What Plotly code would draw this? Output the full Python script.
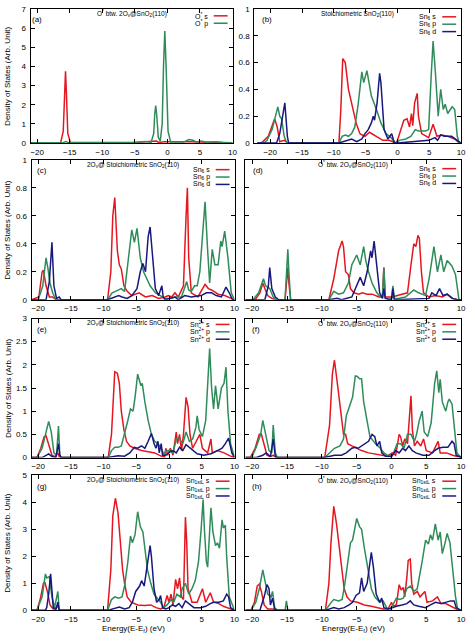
import plotly.graph_objects as go

# ---------------- data (energies in eV, DOS in arb. units) ----------------
# (a) O* btw. 2Ov@SnO2(110)
a_s_x = [-21, -16.4, -16.0, -15.8, -15.65, -15.5, -15.3, -14.9, -5, -1.7, -1.3, -0.4, 3.4, 10]
a_s_y = [0.02, 0.02, 0.6, 2.5, 3.75, 2.5, 0.5, 0.03, 0.03, 0.1, 0.03, 0.06, 0.06, 0.02]
a_p_x = [-21, -16, -15.6, -15.2, -5, -3.5, -2.5, -2.1, -1.95, -1.8, -1.65, -1.4, -1.1, -0.8, -0.6, -0.4,
         -0.2, 0.1, 0.5, 2.5, 3.3, 3.9, 4.5, 5.2, 6, 7.5, 8.5, 10]
a_p_y = [0.02, 0.02, 0.08, 0.02, 0.03, 0.08, 0.04, 0.5, 1.5, 1.95, 1.5, 0.3, 0.1, 1.0, 4.0, 5.85,
         4.0, 0.6, 0.05, 0.05, 0.18, 0.15, 0.05, 0.1, 0.04, 0.06, 0.03, 0.02]

# (b) Stoichiometric SnO2(110)
b_s_x = [-22, -21.4, -20.3, -19.3, -18.9, -18.5, -17.8, -17.2, -9.2, -8.9, -8.6, -8.2, -7.7, -7.2, -6.5,
         -5.9, -5.1, -4.4, -3.3, -2.3, -1.3, -0.3, 0.0, 0.5, 1.0, 1.5, 1.9, 2.2, 2.4, 2.7, 3.1, 3.3, 3.8,
         4.9, 5.6, 6.2, 6.9, 7.9, 9.0, 9.7, 10]
b_s_y = [0, 0, 0.05, 0.18, 0.12, 0.01, 0.02, 0, 0, 0.25, 0.63, 0.6, 0.4, 0.3, 0.15,
         0.07, 0.05, 0.08, 0.05, 0.02, 0.02, 0.0, 0.02, 0.1, 0.17, 0.18, 0.12, 0.22, 0.13, 0.3, 0.37, 0.2, 0.07,
         0.04, 0.14, 0.05, 0.06, 0.05, 0.03, 0.0, 0]
b_p_x = [-22, -21, -20.5, -19.7, -18.8, -18.5, -18.2, -17.8, -17.4, -9.2, -8.7, -8.2, -7.7, -7.2, -6.7,
         -6.2, -5.6, -5.3, -4.8, -4.1, -3.3, -2.6, -1.8, -1.0, -0.3, 0.3, 1.3, 2.1, 2.8, 3.3, 4.4, 4.9,
         5.3, 5.6, 6.0, 6.4, 6.8, 7.2, 7.5, 7.9, 8.6, 9.0, 9.4, 9.7, 10]
b_p_y = [0, 0, 0.02, 0.1, 0.27, 0.2, 0.18, 0.05, 0, 0, 0.05, 0.06, 0.05, 0.07, 0.12,
         0.28, 0.53, 0.45, 0.54, 0.35, 0.25, 0.15, 0.07, 0.04, 0.0, 0.02, 0.03, 0.05, 0.1, 0.09, 0.09, 0.1,
         0.5, 0.76, 0.5, 0.2, 0.4, 0.25, 0.29, 0.22, 0.27, 0.25, 0.05, 0, 0]
b_d_x = [-22, -19, -18.5, -17.9, -17.7, -17.3, -17.1, -9.2, -7.7, -7.2, -6.4, -5.6, -5.1, -4.6, -4.1,
         -3.8, -3.6, -3.2, -2.8, -2.6, -2.1, -1.5, -0.9, -0.5, 0, 4.9, 5.9, 6.3, 6.8, 7.4, 8.5, 9.5, 10]
b_d_y = [0, 0, 0.07, 0.25, 0.3, 0.05, 0, 0, 0.02, 0.03, 0.01, 0.03, 0.07, 0.1, 0.15,
         0.2, 0.17, 0.3, 0.52, 0.45, 0.1, 0.03, 0.07, 0.0, 0, 0.02, 0.04, 0.02, 0.06, 0.05, 0.05, 0.02, 0]

# (c) 2Ov@ Stoichiometric SnO2(110), Sn6
c_s_x = [-21, -19.9, -19.4, -19.2, -18.8, -18.3, -17.8, -17.3, -9.4, -8.9, -8.6, -8.3, -7.9, -7.6, -7.3,
         -6.9, -6.4, -5.7, -4.6, -3.6, -2.6, -1.6, -0.6, -0.1, 0.4, 0.9, 1.4, 2.2, 2.6, 2.8, 3.0, 3.4, 4.4,
         5.5, 6.0, 6.5, 7.5, 8.5, 9.5, 10]
c_s_y = [0, 0.02, 0.2, 0.21, 0.1, 0.02, 0.02, 0, 0, 0.2, 0.6, 0.73, 0.35, 0.25, 0.22,
         0.1, 0.06, 0.03, 0.05, 0.02, 0.03, 0.01, 0.02, 0.03, 0.02, 0.05, 0.02, 0.1, 0.6, 0.8, 0.3, 0.05, 0.02,
         0.11, 0.08, 0.07, 0.04, 0.03, 0.01, 0]
c_p_x = [-21, -20, -19.3, -18.8, -18.5, -18.2, -17.8, -17.3, -9.4, -8.7, -8.2, -7.7, -7.3, -6.8, -6.2,
         -5.7, -5.3, -4.9, -4.4, -3.9, -3.4, -2.9, -2.1, -1.4, -0.6, 0, 1, 1.9, 2.7, 3.0, 3.4, 3.9, 4.3,
         4.7, 5.2, 5.5, 5.9, 6.2, 6.6, 7.0, 7.5, 7.9, 8.1, 8.5, 9.0, 9.5, 10]
c_p_y = [0, 0, 0.1, 0.3, 0.22, 0.12, 0.05, 0, 0, 0.05, 0.06, 0.07, 0.08, 0.06, 0.3,
         0.5, 0.41, 0.51, 0.3, 0.2, 0.15, 0.1, 0.05, 0.03, 0.01, 0.01, 0.02, 0.02, 0.13, 0.07, 0.06, 0.1, 0.1,
         0.2, 0.55, 0.7, 0.35, 0.12, 0.36, 0.25, 0.25, 0.42, 0.38, 0.49, 0.3, 0.05, 0]
c_d_x = [-21, -18.8, -18.3, -17.9, -17.6, -17.2, -16.8, -16.5, -9.4, -7.7, -7.2, -6.4, -5.7, -4.9, -4.4,
         -4.0, -3.6, -3.2, -2.9, -2.5, -2.1, -1.6, -1.1, -0.9, -0.6, 0.9, 1.4, 2.4, 3.4, 4.9, 5.7, 6.5, 7.2,
         8.0, 8.7, 9.2, 9.7, 10]
c_d_y = [0, 0, 0.13, 0.41, 0.1, 0.01, 0.02, 0, 0, 0.03, 0.02, 0.01, 0.03, 0.08, 0.2,
         0.26, 0.2, 0.45, 0.52, 0.3, 0.08, 0.03, 0.1, 0.02, 0.0, 0.02, 0.0, 0.03, 0.02, 0.03, 0.05, 0.05, 0.03,
         0.02, 0.09, 0.05, 0, 0]

# (d) O* btw. 2Ov@SnO2(110), Sn6
d_s_x = [-21, -19.6, -18.9, -18.5, -18.2, -17.8, -17.2, -16.7, -15.3, -15.05, -14.9, -14.75, -14.5, -9.0,
         -8.3, -7.6, -7.1, -6.9, -6.6, -6.2, -5.9, -5.4, -4.7, -4.2, -3.5, -2.8, -1.8, -1.3, -1.1, -0.9,
         -0.4, 0.1, 1.5, 2.3, 2.8, 3.2, 3.5, 3.8, 4.0, 4.3, 4.6, 5.4, 6.3, 7.3, 8.0, 8.8, 9.5, 10]
d_s_y = [0, 0, 0.05, 0.12, 0.08, 0.03, 0.01, 0, 0, 0.12, 0.23, 0.12, 0, 0,
         0.15, 0.35, 0.42, 0.38, 0.2, 0.18, 0.08, 0.05, 0.04, 0.05, 0.04, 0.04, 0.02, 0.02, 0.23, 0.02,
         0.02, 0.02, 0.04, 0.05, 0.25, 0.4, 0.38, 0.46, 0.44, 0.2, 0.05, 0.02, 0.03, 0.02, 0.04, 0.01, 0.0, 0]
d_p_x = [-21, -19.9, -19.1, -18.4, -18.1, -17.5, -17.0, -16.5, -15.3, -15.05, -14.9, -14.75, -14.5, -9.0,
         -8.3, -7.6, -6.9, -6.2, -5.7, -5.0, -4.5, -4.0, -3.7, -3.3, -2.8, -2.1, -1.6, -1.3, -1.1, -0.9,
         -0.4, 0.0, 0.2, 0.4, 1.0, 2.0, 3.2, 3.9, 4.9, 5.4, 5.8, 6.1, 6.6, 7.1, 7.5, 8.0, 8.7, 9.2, 9.7, 10]
d_p_y = [0, 0, 0.05, 0.15, 0.1, 0.08, 0.02, 0, 0, 0.2, 0.36, 0.2, 0, 0,
         0.06, 0.04, 0.05, 0.12, 0.25, 0.32, 0.25, 0.38, 0.28, 0.2, 0.12, 0.05, 0.02, 0.02, 0.23, 0.02,
         0.0, 0.01, 0.1, 0.01, 0.01, 0.02, 0.07, 0.05, 0.03, 0.15, 0.3, 0.38, 0.2, 0.32, 0.2, 0.28, 0.24, 0.18, 0.0, 0]
d_d_x = [-21, -18.2, -17.7, -17.5, -17.2, -16.7, -16.2, -9, -7.8, -7.2, -5.7, -5.0, -4.5, -4.0, -3.5,
         -3.0, -2.8, -2.5, -2.1, -1.7, -1.3, -1.1, -0.9, 0.0, 0.2, 0.4, 5.4, 5.8, 6.4, 6.9, 7.4, 8.0, 8.7, 9.5, 10]
d_d_y = [0, 0, 0.1, 0.23, 0.08, 0.02, 0, 0, 0.01, 0.0, 0.02, 0.1, 0.16, 0.1, 0.2,
         0.35, 0.3, 0.42, 0.25, 0.05, 0.01, 0.08, 0.01, 0.0, 0.08, 0.0, 0.01, 0.05, 0.03, 0.08, 0.03, 0.04, 0.01, 0, 0]

# (e) 2Ov@ Stoichiometric SnO2(110), Sn2+
e_s_x = [-21, -20.2, -19.6, -19.1, -18.8, -18.4, -17.9, -17.4, -17.0, -16.8, -16.5, -9.3, -8.8, -8.3, -7.9,
         -7.6, -7.3, -6.9, -6.5, -6.0, -5.3, -4.2, -3.2, -2.2, -1.2, -0.7, -0.5, -0.2, 0.2, 0.6, 1.1, 1.3,
         1.6, 1.9, 2.2, 2.6, 2.9, 3.2, 3.6, 4.3, 4.7, 5.1, 5.9, 6.4, 6.6, 7.4, 8.4, 9.4, 10]
e_s_y = [0, 0, 0.2, 0.45, 0.47, 0.3, 0.05, 0.02, 0.1, 0.02, 0, 0, 0.5, 1.85, 1.82,
         1.6, 1.0, 0.6, 0.35, 0.25, 0.2, 0.15, 0.12, 0.1, 0.03, 0.01, 0.2, 0.05, 0.2, 0.05, 0.55, 0.3,
         0.5, 0.15, 0.5, 1.3, 1.1, 0.5, 0.2, 0.4, 0.5, 0.2, 0.1, 0.4, 0.1, 0.15, 0.1, 0.03, 0]
e_p_x = [-21, -20.2, -19.4, -18.9, -18.4, -18.0, -17.6, -17.2, -16.9, -16.7, -16.4, -9.3, -8.8, -8.3, -7.8,
         -7.3, -6.8, -6.3, -5.9, -5.5, -5.2, -4.8, -4.3, -4.1, -3.7, -3.2, -2.7, -2.2, -1.7, -1.2, -0.7,
         -0.5, 0.2, 0.6, 1.1, 1.6, 2.1, 2.6, 3.1, 3.6, 4.1, 4.3, 4.6, 5.1, 5.6, 6.0, 6.2, 6.5, 6.8, 7.1,
         7.5, 8.0, 8.4, 8.7, 9.0, 9.4, 10]
e_p_y = [0, 0, 0.2, 0.5, 0.78, 0.55, 0.1, 0.05, 0.68, 0.05, 0, 0, 0.15, 0.22, 0.22,
         0.25, 0.5, 0.8, 1.05, 1.0, 1.3, 1.8, 1.55, 1.6, 1.2, 0.8, 0.5, 0.35, 0.3, 0.2, 0.05,
         0.15, 0.15, 0.1, 0.4, 0.4, 0.3, 0.55, 0.35, 0.4, 0.65, 0.9, 0.6, 0.45, 0.8, 1.7, 2.35, 1.5, 1.05, 1.55,
         1.05, 1.5, 1.6, 1.95, 1.0, 0.3, 0]
e_d_x = [-21, -19.4, -18.4, -17.9, -17.3, -17.0, -16.9, -16.7, -16.5, -9.3, -7.8, -6.8, -6.0, -5.3, -4.8,
         -4.2, -3.7, -3.2, -2.7, -2.3, -2.0, -1.7, -1.5, -1.2, -1.0, -0.5, 0.1, 0.6, 1.1, 1.6, 2.1, 2.6,
         3.1, 3.6, 4.3, 5.3, 6.4, 7.4, 8.1, 8.6, 9.1, 9.6, 10]
e_d_y = [0, 0, 0.08, 0.02, 0.0, 0.2, 0.3, 0.05, 0, 0, 0.04, 0.03, 0.1, 0.22, 0.2,
         0.25, 0.2, 0.35, 0.52, 0.3, 0.2, 0.35, 0.1, 0.3, 0.05, 0.05, 0.12, 0.15, 0.1, 0.22, 0.15, 0.28,
         0.22, 0.15, 0.08, 0.05, 0.08, 0.15, 0.2, 0.3, 0.42, 0.1, 0]

# (f) O* btw. 2Ov@SnO2(110), Sn2+
f_s_x = [-21, -20.3, -19.6, -19.0, -18.7, -18.3, -17.9, -17.4, -17.0, -16.6, -9.6, -8.9, -8.5, -8.2, -7.9,
         -7.7, -7.3, -6.9, -6.6, -6.3, -5.7, -5.0, -4.3, -3.3, -2.3, -1.4, -0.6, 0.1, 0.6, 1.1, 1.3, 1.6,
         1.9, 2.3, 2.5, 2.8, 3.0, 3.3, 3.7, 4.2, 4.6, 5.0, 5.9, 6.7, 7.0, 7.9, 8.8, 9.6, 10]
f_s_y = [0, 0, 0.2, 0.5, 0.5, 0.3, 0.05, 0.02, 0.05, 0, 0, 0.7, 1.8, 2.1, 1.8,
         1.5, 1.0, 0.5, 0.5, 0.3, 0.25, 0.2, 0.15, 0.1, 0.08, 0.05, 0.03, 0.1, 0.05, 0.5, 0.45, 0.25,
         0.4, 0.3, 0.8, 1.33, 0.6, 0.25, 0.35, 0.25, 0.4, 0.15, 0.1, 0.35, 0.1, 0.1, 0.05, 0.02, 0]
f_p_x = [-21, -20.1, -19.5, -18.8, -18.5, -18.1, -17.6, -17.2, -17.0, -16.7, -16.4, -9.6, -8.9, -8.2, -7.4,
         -6.9, -6.5, -6.0, -5.6, -5.2, -4.9, -4.6, -4.3, -4.0, -3.5, -3.1, -2.3, -1.6, -1.1, -0.6, 0,
         0.3, 0.8, 1.3, 1.8, 2.3, 2.8, 3.3, 3.6, 4.0, 4.4, 4.7, 5.2, 5.7, 6.2, 6.5, 6.8, 7.0, 7.3, 7.8,
         8.1, 8.3, 8.7, 9.1, 9.4, 10]
f_p_y = [0, 0, 0.2, 0.5, 0.8, 0.5, 0.15, 0.1, 0.7, 0.1, 0, 0, 0.1, 0.2, 0.25,
         0.4, 0.9, 1.1, 1.3, 1.76, 1.75, 1.7, 1.7, 1.2, 0.8, 0.45, 0.3, 0.2, 0.1, 0.05, 0.05,
         0.1, 0.3, 0.3, 0.2, 0.5, 0.5, 0.35, 0.5, 0.8, 1.0, 0.55, 0.45, 0.75, 1.6, 1.87, 1.4, 1.69, 1.2, 1.0,
         1.2, 1.26, 1.15, 0.6, 0.1, 0]
f_d_x = [-21, -19.4, -18.5, -18.0, -17.4, -17.0, -16.7, -16.4, -9.6, -8.2, -7.2, -6.5, -5.7, -5.2, -4.8,
         -4.3, -3.8, -3.3, -2.8, -2.4, -2.1, -1.7, -1.4, -0.9, 0.0, 0.6, 1.1, 1.6, 2.0, 2.5, 3.0, 3.5,
         4.5, 5.4, 6.2, 6.7, 7.4, 8.1, 8.7, 9.0, 9.3, 10]
f_d_y = [0, 0, 0.05, 0.1, 0.02, 0.4, 0.02, 0, 0, 0.05, 0.05, 0.1, 0.2, 0.22, 0.2,
         0.25, 0.3, 0.35, 0.5, 0.45, 0.25, 0.35, 0.1, 0.03, 0.02, 0.15, 0.1, 0.2, 0.15, 0.25, 0.15, 0.1,
         0.05, 0.05, 0.15, 0.2, 0.22, 0.22, 0.35, 0.3, 0.05, 0]

# (g) 2Ov@ Stoichiometric SnO2(110), Sn1stL
g_s_x = [-21, -20.2, -19.7, -19.2, -19.0, -18.6, -18.2, -17.7, -17.0, -16.8, -16.5, -9.4, -8.9, -8.6, -8.2,
         -7.8, -7.5, -7.1, -6.8, -6.4, -5.8, -4.8, -3.8, -2.8, -2.0, -1.3, -0.8, -0.3, 0.0, 0.3, 0.6, 1.0,
         1.3, 1.6, 1.9, 2.2, 2.5, 2.7, 2.9, 3.5, 4.3, 5.1, 5.6, 6.3, 6.8, 7.6, 8.3, 9.3, 10]
g_s_y = [0, 0, 0.4, 1.0, 1.05, 0.7, 0.2, 0.05, 0.15, 0.02, 0, 0, 1.5, 3.5, 4.15,
         3.6, 2.7, 1.5, 1.0, 0.5, 0.3, 0.2, 0.18, 0.2, 0.1, 0.05, 0.1, 0.55, 0.3, 0.6, 0.2, 1.15,
         0.8, 1.2, 0.5, 0.4, 3.45, 2.5, 0.8, 0.3, 0.3, 0.8, 0.3, 0.65, 0.3, 0.25, 0.15, 0.05, 0]
g_p_x = [-21, -20.2, -19.4, -18.9, -18.7, -18.3, -17.9, -17.5, -17.0, -16.8, -16.5, -9.4, -8.8, -8.3, -7.7,
         -7.2, -6.8, -6.3, -5.9, -5.6, -5.2, -4.8, -4.4, -4.0, -3.7, -3.3, -2.8, -2.3, -1.8, -1.3, -0.8,
         -0.3, 0.3, 0.7, 1.2, 1.7, 2.0, 2.5, 3.0, 3.5, 4.0, 4.5, 4.9, 5.2, 5.4, 5.7, 5.9, 6.2, 6.4, 6.7,
         7.1, 7.4, 7.7, 8.1, 8.3, 8.6, 8.8, 9.2, 10]
g_p_y = [0, 0, 0.5, 1.35, 1.2, 1.25, 0.5, 0.1, 0.7, 0.05, 0, 0, 0.4, 0.5, 0.45,
         0.5, 0.9, 1.8, 2.75, 2.5, 2.8, 3.65, 3.1, 2.9, 2.3, 1.5, 1.0, 0.6, 0.45, 0.3, 0.1,
         0.2, 0.4, 0.3, 0.6, 0.5, 0.8, 1.0, 0.6, 0.8, 1.1, 1.8, 3.0, 4.1, 3.0, 1.8, 1.6, 3.0, 3.8, 2.9,
         2.4, 2.5, 2.3, 3.35, 3.05, 3.15, 2.0, 0.5, 0]
g_d_x = [-21, -18.9, -18.7, -18.4, -18.1, -17.9, -17.7, -17.3, -17.0, -16.8, -16.5, -9.4, -8.1, -7.6, -6.8,
         -6.1, -5.6, -5.1, -4.5, -4.2, -3.8, -3.3, -2.9, -2.7, -2.3, -1.9, -1.5, -1.3, -1.0, -0.5, 0.0,
         0.5, 1.0, 1.5, 2.0, 2.5, 3.0, 3.8, 4.8, 5.6, 6.3, 6.8, 7.6, 8.3, 8.8, 9.1, 9.4, 10]
g_d_y = [0, 0, 0.1, 0.6, 1.35, 0.8, 0.1, 0.02, 0.3, 0.02, 0, 0, 0.1, 0.12, 0.05,
         0.1, 0.3, 0.7, 0.9, 1.1, 0.9, 1.8, 2.4, 2.0, 0.8, 0.3, 0.4, 0.55, 0.1, 0.05, 0.1,
         0.2, 0.15, 0.25, 0.1, 0.35, 0.25, 0.1, 0.1, 0.15, 0.25, 0.3, 0.3, 0.35, 0.6, 0.5, 0.1, 0]

# (h) O* btw. 2Ov@SnO2(110), Sn1stL
h_s_x = [-21, -20.2, -19.7, -19.3, -19.0, -18.7, -18.3, -17.8, -17.0, -16.5, -9.5, -9.0, -8.7, -8.3, -7.9,
         -7.6, -7.2, -6.8, -6.4, -5.9, -4.9, -3.9, -2.9, -2.0, -1.2, -0.5, 0.0, 0.2, 0.7, 1.1, 1.4, 1.7,
         1.9, 2.2, 2.4, 2.7, 2.9, 3.2, 3.7, 4.1, 4.8, 5.1, 5.9, 6.6, 7.1, 7.8, 8.5, 9.3, 10]
h_s_y = [0, 0, 0.3, 0.9, 0.97, 0.7, 0.2, 0.05, 0.05, 0, 0, 1.0, 2.5, 3.85, 3.2,
         2.5, 1.5, 0.8, 0.5, 0.35, 0.3, 0.2, 0.15, 0.1, 0.05, 0.05, 0.3, 0.15, 0.2, 0.95, 0.75, 0.85,
         0.5, 1.2, 1.85, 1.9, 1.0, 0.6, 0.7, 0.5, 0.7, 0.3, 0.35, 0.5, 0.25, 0.25, 0.15, 0.05, 0]
h_p_x = [-21, -20.2, -19.5, -19.0, -18.5, -18.1, -17.8, -17.3, -17.1, -16.8, -16.4, -15.3, -15.1, -14.9,
         -9.5, -8.8, -8.3, -7.6, -7.1, -6.7, -6.3, -5.9, -5.6, -5.4, -5.0, -4.6, -4.3, -3.9, -3.4, -2.9,
         -2.4, -1.7, -1.2, -0.7, -0.2, 0.2, 0.7, 1.2, 1.7, 2.2, 2.7, 3.2, 3.7, 4.0, 4.4, 4.9, 5.3, 5.6,
         5.9, 6.3, 6.7, 7.0, 7.3, 7.7, 8.0, 8.4, 8.8, 9.2, 9.5, 10]
h_p_y = [0, 0, 0.3, 0.8, 1.5, 1.0, 0.6, 0.5, 0.7, 0.1, 0, 0, 0.35, 0,
         0, 0.25, 0.4, 0.35, 0.4, 1.0, 1.7, 2.5, 2.6, 2.9, 3.4, 3.1, 3.0, 2.3, 1.5, 0.8,
         0.5, 0.3, 0.35, 0.1, 0.05, 0.2, 0.45, 0.4, 0.45, 0.8, 0.9, 0.7, 0.8, 1.2, 1.8, 2.6, 2.45, 2.8,
         2.6, 3.2, 2.6, 2.9, 2.1, 2.5, 2.85, 2.5, 1.5, 0.5, 0.05, 0]
h_d_x = [-21, -18.9, -18.8, -18.3, -17.9, -17.6, -17.4, -17.1, -16.8, -16.4, -9.5, -8.3, -7.6, -6.8, -6.1,
         -5.6, -5.1, -4.6, -4.3, -4.0, -3.5, -3.2, -2.9, -2.6, -2.2, -1.7, -1.4, -1.1, -0.5, 0.2, 0.7,
         1.5, 2.2, 2.7, 3.2, 3.9, 4.9, 5.6, 6.3, 7.1, 7.8, 8.5, 9.0, 9.3, 10]
h_d_y = [0, 0, 0.1, 0.5, 0.95, 0.8, 0.2, 0.45, 0.05, 0, 0, 0.1, 0.05, 0.1, 0.2,
         0.3, 0.55, 0.65, 1.2, 0.7, 1.0, 1.6, 2.15, 1.6, 0.6, 0.3, 0.45, 0.1, 0.05, 0.1, 0.15,
         0.2, 0.25, 0.35, 0.2, 0.15, 0.1, 0.2, 0.3, 0.25, 0.3, 0.35, 0.35, 0.1, 0]

panel_tags = ["(a)", "(b)", "(c)", "(d)", "(e)", "(f)", "(g)", "(h)"]
panel_titles = [
    "O<sup>*</sup> btw. 2O<sub>v</sub>@SnO<sub>2</sub>(110)",
    "Stoichiometric SnO<sub>2</sub>(110)",
    "2O<sub>v</sub>@ Stoichiometric SnO<sub>2</sub>(110)",
    "O<sup>*</sup> btw. 2O<sub>v</sub>@SnO<sub>2</sub>(110)",
    "2O<sub>v</sub>@ Stoichiometric SnO<sub>2</sub>(110)",
    "O<sup>*</sup> btw. 2O<sub>v</sub>@SnO<sub>2</sub>(110)",
    "2O<sub>v</sub>@ Stoichiometric SnO<sub>2</sub>(110)",
    "O<sup>*</sup> btw. 2O<sub>v</sub>@SnO<sub>2</sub>(110)",
]
atom_a = "O<sup>*</sup>"
atom_b = "Sn<sub>6</sub>"
atom_e = "Sn<sup>2+</sup>"
atom_g = "Sn<sub>1stL</sub>"
y_max = [7, 1, 1, 1, 3, 3, 5, 5]
y_step = [1, 0.2, 0.2, 0.2, 0.5, 0.5, 1, 1]
x_ranges = [[-21, 10], [-22.5, 10], [-21, 10], [-21, 10], [-21, 10], [-21, 10], [-21, 10], [-21, 10]]
y_title = "Density of States (Arb. Unit)"
x_title = "Energy(E-E<sub>f</sub>) (eV)"

series = [
    [(atom_a + " s", a_s_x, a_s_y), (atom_a + " p", a_p_x, a_p_y)],
    [(atom_b + " s", b_s_x, b_s_y), (atom_b + " p", b_p_x, b_p_y), (atom_b + " d", b_d_x, b_d_y)],
    [(atom_b + " s", c_s_x, c_s_y), (atom_b + " p", c_p_x, c_p_y), (atom_b + " d", c_d_x, c_d_y)],
    [(atom_b + " s", d_s_x, d_s_y), (atom_b + " p", d_p_x, d_p_y), (atom_b + " d", d_d_x, d_d_y)],
    [(atom_e + " s", e_s_x, e_s_y), (atom_e + " p", e_p_x, e_p_y), (atom_e + " d", e_d_x, e_d_y)],
    [(atom_e + " s", f_s_x, f_s_y), (atom_e + " p", f_p_x, f_p_y), (atom_e + " d", f_d_x, f_d_y)],
    [(atom_g + " s", g_s_x, g_s_y), (atom_g + " p", g_p_x, g_p_y), (atom_g + " d", g_d_x, g_d_y)],
    [(atom_g + " s", h_s_x, h_s_y), (atom_g + " p", h_p_x, h_p_y), (atom_g + " d", h_d_x, h_d_y)],
]

# ---------------- layout / style ----------------
W, H = 474, 640
COLORS = ["#e5161f", "#2f8c5a", "#18187e"]
FONT = "Liberation Sans, Arial, sans-serif"

# pixel boxes (left, right, top, bottom)
boxes = [
    (31, 235, 5, 141), (257, 466, 5, 141),
    (32, 237, 158, 300), (248, 466, 158, 300),
    (32, 237, 319, 460), (248, 466, 319, 460),
    (32, 237, 478, 615), (248, 466, 478, 615),
]
legend_top = [7, 8, 10, 9, 6, 6, 6, 6]
tag_dx = [6, 13, 10, 13, 10, 11, 10, 12]

fig = go.Figure()
shapes = []
annotations = []

for i in range(8):
    n = i + 1
    xa = "x" if n == 1 else "x%d" % n
    ya = "y" if n == 1 else "y%d" % n
    L, R, T, B = boxes[i]
    for k, (name, xs, ys) in enumerate(series[i]):
        fig.add_trace(go.Scatter(x=xs, y=ys, mode="lines", name=name,
                                 line=dict(color=COLORS[k], width=1.5),
                                 xaxis=xa, yaxis=ya, showlegend=False,
                                 hoverinfo="skip"))
    show_ylabels = i in (0, 1, 2, 4, 6)
    ax_common = dict(showline=True, linecolor="black", linewidth=1, mirror="ticks",
                     ticks="inside", ticklen=4, tickwidth=1, tickcolor="black",
                     showgrid=False, zeroline=False,
                     tickfont=dict(family=FONT, size=8, color="black"))
    fig.update_layout(**{
        ("xaxis" if n == 1 else "xaxis%d" % n): dict(
            domain=[L / W, R / W], anchor=ya, range=x_ranges[i],
            tickmode="linear", tick0=-20, dtick=5, ticklabelstandoff=1, **ax_common),
        ("yaxis" if n == 1 else "yaxis%d" % n): dict(
            domain=[1 - B / H, 1 - T / H], anchor=xa, range=[0, y_max[i]],
            tickmode="linear", tick0=0, dtick=y_step[i], showticklabels=show_ylabels,
            ticklabelstandoff=2, **ax_common),
    })
    # panel tag
    annotations.append(dict(text=panel_tags[i], xref="paper", yref="paper",
                            x=(L + tag_dx[i]) / W, y=1 - (T + 11) / H,
                            xanchor="center", yanchor="middle", showarrow=False,
                            font=dict(family=FONT, size=8, color="black")))
    # panel title
    annotations.append(dict(text=panel_titles[i], xref="paper", yref="paper",
                            x=(L + R) / 2 / W, y=1 - (T + 5) / H,
                            xanchor="center", yanchor="middle", showarrow=False,
                            font=dict(family=FONT, size=6.5, color="black")))
    # key (text then line sample, gnuplot style)
    for k, (name, xs, ys) in enumerate(series[i]):
        yy = 1 - (T + legend_top[i] + 7.5 * k) / H
        annotations.append(dict(text=name, xref="paper", yref="paper",
                                x=(R - 23) / W, y=yy, xanchor="right", yanchor="middle",
                                showarrow=False, font=dict(family=FONT, size=7, color="black")))
        shapes.append(dict(type="line", xref="paper", yref="paper",
                           x0=(R - 19) / W, x1=(R - 5) / W, y0=yy, y1=yy,
                           line=dict(color=COLORS[k], width=1.5)))
    if i in (0, 2, 4, 6):
        annotations.append(dict(text=y_title, xref="paper", yref="paper",
                                x=8 / W, y=1 - (T + B) / 2 / H, textangle=-90,
                                xanchor="center", yanchor="middle", showarrow=False,
                                font=dict(family=FONT, size=8, color="black")))

for cx in ((32 + 237) / 2, (248 + 466) / 2):
    annotations.append(dict(text=x_title, xref="paper", yref="paper",
                            x=cx / W, y=1 - 634 / H, xanchor="center", yanchor="middle",
                            showarrow=False, font=dict(family=FONT, size=8, color="black")))

fig.update_layout(width=W, height=H, margin=dict(l=0, r=0, t=0, b=0),
                  paper_bgcolor="white", plot_bgcolor="white",
                  shapes=shapes, annotations=annotations, showlegend=False)

fig.write_html("out.html")
